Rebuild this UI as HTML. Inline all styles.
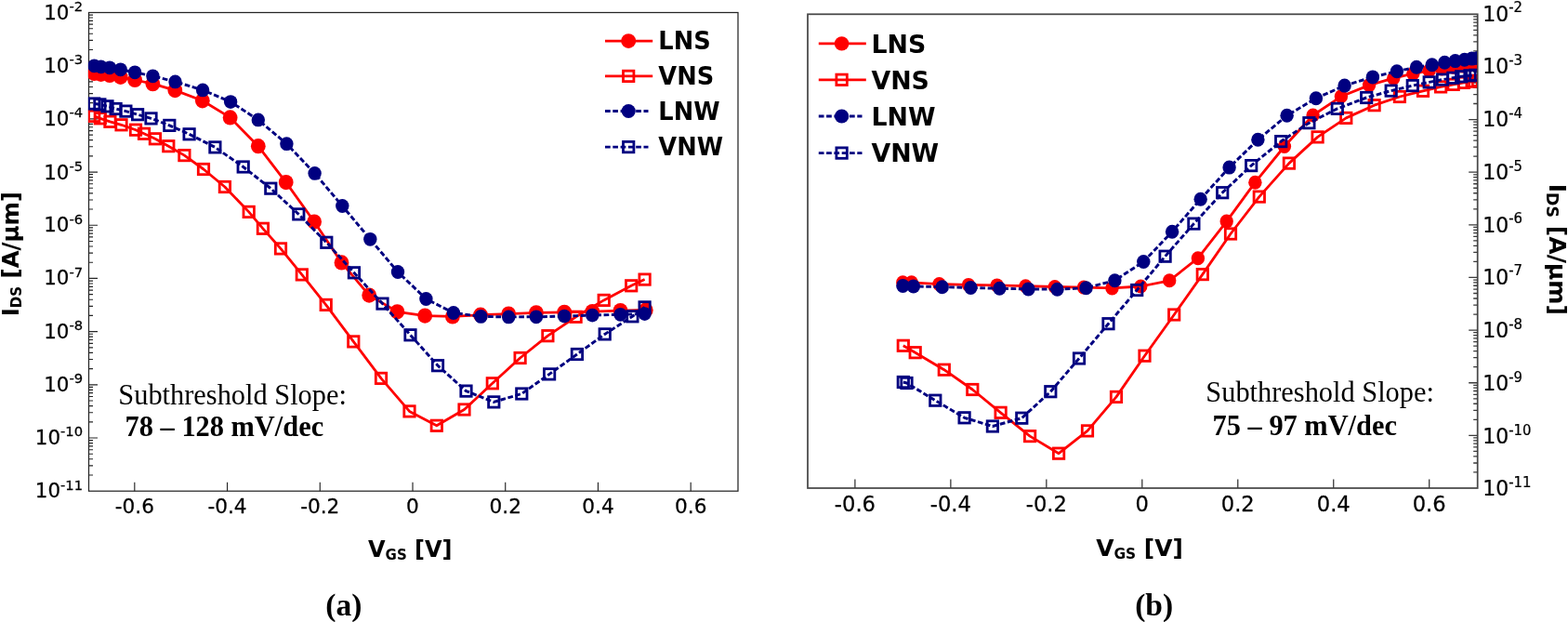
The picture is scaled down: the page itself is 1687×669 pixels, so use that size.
<!DOCTYPE html>
<html lang="en"><head><meta charset="utf-8"><title>Transfer characteristics: LNS, VNS, LNW, VNW</title>
<style>html,body{margin:0;padding:0;background:#fff}body{width:1687px;height:669px;overflow:hidden}svg{display:block}text{white-space:pre}</style>
</head><body>
<svg width="1687" height="669" viewBox="0 0 1687 669">
<rect width="1687" height="669" fill="#fff"/>
<defs>
<clipPath id="ca"><rect x="94.9" y="12.9" width="698.5" height="515.9"/></clipPath>
<clipPath id="cb"><rect x="868.4" y="14.7" width="720.7" height="510.9"/></clipPath>
</defs>
<g id="plot-a">
<rect x="95.5" y="13.5" width="698.5" height="514.7" fill="none" stroke="#262626" stroke-width="1.25"/>
<path d="M95.5 53.47h4.5M95.5 43.4h4.5M95.5 36.26h4.5M95.5 30.72h4.5M95.5 26.19h4.5M95.5 22.36h4.5M95.5 19.04h4.5M95.5 16.12h4.5M95.5 70.69h9.5M95.5 110.66h4.5M95.5 100.59h4.5M95.5 93.45h4.5M95.5 87.9h4.5M95.5 83.38h4.5M95.5 79.55h4.5M95.5 76.23h4.5M95.5 73.31h4.5M95.5 127.88h9.5M95.5 167.85h4.5M95.5 157.78h4.5M95.5 150.64h4.5M95.5 145.09h4.5M95.5 140.57h4.5M95.5 136.74h4.5M95.5 133.42h4.5M95.5 130.49h4.5M95.5 185.07h9.5M95.5 225.04h4.5M95.5 214.97h4.5M95.5 207.82h4.5M95.5 202.28h4.5M95.5 197.75h4.5M95.5 193.93h4.5M95.5 190.61h4.5M95.5 187.68h4.5M95.5 242.26h9.5M95.5 282.23h4.5M95.5 272.16h4.5M95.5 265.01h4.5M95.5 259.47h4.5M95.5 254.94h4.5M95.5 251.11h4.5M95.5 247.8h4.5M95.5 244.87h4.5M95.5 299.44h9.5M95.5 339.42h4.5M95.5 329.35h4.5M95.5 322.2h4.5M95.5 316.66h4.5M95.5 312.13h4.5M95.5 308.3h4.5M95.5 304.99h4.5M95.5 302.06h4.5M95.5 356.63h9.5M95.5 396.61h4.5M95.5 386.54h4.5M95.5 379.39h4.5M95.5 373.85h4.5M95.5 369.32h4.5M95.5 365.49h4.5M95.5 362.18h4.5M95.5 359.25h4.5M95.5 413.82h9.5M95.5 453.8h4.5M95.5 443.73h4.5M95.5 436.58h4.5M95.5 431.04h4.5M95.5 426.51h4.5M95.5 422.68h4.5M95.5 419.36h4.5M95.5 416.44h4.5M95.5 471.01h9.5M95.5 510.98h4.5M95.5 500.91h4.5M95.5 493.77h4.5M95.5 488.23h4.5M95.5 483.7h4.5M95.5 479.87h4.5M95.5 476.55h4.5M95.5 473.63h4.5M144.81 528.2v-9.5M244.54 528.2v-9.5M344.27 528.2v-9.5M444 528.2v-9.5M543.73 528.2v-9.5M643.46 528.2v-9.5M743.19 528.2v-9.5" fill="none" stroke="#262626" stroke-width="1.15"/>
<g clip-path="url(#ca)">
<polyline points="101.4,79 108.6,79.8 118,81 129.7,82.8 145.1,86 164.4,90.2 188.3,97.1 217.8,108.3 247.6,126.4 277.8,157.2 307.7,196.1 338.1,238.5 367.5,282.4 397.2,317.6 427.4,335.3 457.2,339.6 486.9,340.4 517,338.7 547.2,337.6 576.9,336.3 607.2,335.8 637.3,335.1 667.5,334.1 694.8,333.4" fill="none" stroke="#ff0000" stroke-width="2.8" stroke-linejoin="round"/>
<g fill="#ff0000">
<ellipse cx="101.4" cy="79" rx="7.9" ry="8.1"/>
<ellipse cx="108.6" cy="79.8" rx="7.9" ry="8.1"/>
<ellipse cx="118" cy="81" rx="7.9" ry="8.1"/>
<ellipse cx="129.7" cy="82.8" rx="7.9" ry="8.1"/>
<ellipse cx="145.1" cy="86" rx="7.9" ry="8.1"/>
<ellipse cx="164.4" cy="90.2" rx="7.9" ry="8.1"/>
<ellipse cx="188.3" cy="97.1" rx="7.9" ry="8.1"/>
<ellipse cx="217.8" cy="108.3" rx="7.9" ry="8.1"/>
<ellipse cx="247.6" cy="126.4" rx="7.9" ry="8.1"/>
<ellipse cx="277.8" cy="157.2" rx="7.9" ry="8.1"/>
<ellipse cx="307.7" cy="196.1" rx="7.9" ry="8.1"/>
<ellipse cx="338.1" cy="238.5" rx="7.9" ry="8.1"/>
<ellipse cx="367.5" cy="282.4" rx="7.9" ry="8.1"/>
<ellipse cx="397.2" cy="317.6" rx="7.9" ry="8.1"/>
<ellipse cx="427.4" cy="335.3" rx="7.9" ry="8.1"/>
<ellipse cx="457.2" cy="339.6" rx="7.9" ry="8.1"/>
<ellipse cx="486.9" cy="340.4" rx="7.9" ry="8.1"/>
<ellipse cx="517" cy="338.7" rx="7.9" ry="8.1"/>
<ellipse cx="547.2" cy="337.6" rx="7.9" ry="8.1"/>
<ellipse cx="576.9" cy="336.3" rx="7.9" ry="8.1"/>
<ellipse cx="607.2" cy="335.8" rx="7.9" ry="8.1"/>
<ellipse cx="637.3" cy="335.1" rx="7.9" ry="8.1"/>
<ellipse cx="667.5" cy="334.1" rx="7.9" ry="8.1"/>
<ellipse cx="694.8" cy="333.4" rx="7.9" ry="8.1"/>
</g>
<polyline points="101.2,124.9 107.8,127.3 118.4,130.8 130.5,134.3 146,139.7 155,143.8 166.9,149.3 181.3,157.2 198.4,167.1 219,182 241.9,201 267.7,227.9 282.9,245.8 302,267.4 324.8,295.4 350.7,327.9 380.3,367.4 410,406.9 440.5,442.4 469.8,457.8 499.5,440.5 529.8,412.3 559.6,385 589.4,361.2 619.6,340.8 649.7,322.9 679.2,307.3 693.6,300.6" fill="none" stroke="#ff0000" stroke-width="2.8" stroke-linejoin="round"/>
<g fill="none" stroke="#ff0000" stroke-width="2.8">
<rect x="95.5" y="119.2" width="11.4" height="11.4"/>
<rect x="102.1" y="121.6" width="11.4" height="11.4"/>
<rect x="112.7" y="125.1" width="11.4" height="11.4"/>
<rect x="124.8" y="128.6" width="11.4" height="11.4"/>
<rect x="140.3" y="134" width="11.4" height="11.4"/>
<rect x="149.3" y="138.1" width="11.4" height="11.4"/>
<rect x="161.2" y="143.6" width="11.4" height="11.4"/>
<rect x="175.6" y="151.5" width="11.4" height="11.4"/>
<rect x="192.7" y="161.4" width="11.4" height="11.4"/>
<rect x="213.3" y="176.3" width="11.4" height="11.4"/>
<rect x="236.2" y="195.3" width="11.4" height="11.4"/>
<rect x="262" y="222.2" width="11.4" height="11.4"/>
<rect x="277.2" y="240.1" width="11.4" height="11.4"/>
<rect x="296.3" y="261.7" width="11.4" height="11.4"/>
<rect x="319.1" y="289.7" width="11.4" height="11.4"/>
<rect x="345" y="322.2" width="11.4" height="11.4"/>
<rect x="374.6" y="361.7" width="11.4" height="11.4"/>
<rect x="404.3" y="401.2" width="11.4" height="11.4"/>
<rect x="434.8" y="436.7" width="11.4" height="11.4"/>
<rect x="464.1" y="452.1" width="11.4" height="11.4"/>
<rect x="493.8" y="434.8" width="11.4" height="11.4"/>
<rect x="524.1" y="406.6" width="11.4" height="11.4"/>
<rect x="553.9" y="379.3" width="11.4" height="11.4"/>
<rect x="583.7" y="355.5" width="11.4" height="11.4"/>
<rect x="613.9" y="335.1" width="11.4" height="11.4"/>
<rect x="644" y="317.2" width="11.4" height="11.4"/>
<rect x="673.5" y="301.6" width="11.4" height="11.4"/>
<rect x="687.9" y="294.9" width="11.4" height="11.4"/>
</g>
<polyline points="101.4,70.8 108.6,71.8 118,72.8 129.7,74.8 145.1,77.8 164.4,81.8 188.5,87.9 218.1,96.9 248.1,109.6 277.8,128.9 308.4,154.7 338.6,186.4 368.3,221.5 398.3,257.3 428,292.5 458.4,321.5 487.9,336.5 517.4,340.4 547.2,340.9 576.9,340.8 607.2,340.1 637.3,339.1 667.5,338.3 693.6,337.6" fill="none" stroke="#000080" stroke-width="2.9499999999999997" stroke-dasharray="5.7 2.6" stroke-linejoin="round"/>
<g fill="#000080">
<ellipse cx="101.4" cy="70.8" rx="7.2" ry="7.4"/>
<ellipse cx="108.6" cy="71.8" rx="7.2" ry="7.4"/>
<ellipse cx="118" cy="72.8" rx="7.2" ry="7.4"/>
<ellipse cx="129.7" cy="74.8" rx="7.2" ry="7.4"/>
<ellipse cx="145.1" cy="77.8" rx="7.2" ry="7.4"/>
<ellipse cx="164.4" cy="81.8" rx="7.2" ry="7.4"/>
<ellipse cx="188.5" cy="87.9" rx="7.2" ry="7.4"/>
<ellipse cx="218.1" cy="96.9" rx="7.2" ry="7.4"/>
<ellipse cx="248.1" cy="109.6" rx="7.2" ry="7.4"/>
<ellipse cx="277.8" cy="128.9" rx="7.2" ry="7.4"/>
<ellipse cx="308.4" cy="154.7" rx="7.2" ry="7.4"/>
<ellipse cx="338.6" cy="186.4" rx="7.2" ry="7.4"/>
<ellipse cx="368.3" cy="221.5" rx="7.2" ry="7.4"/>
<ellipse cx="398.3" cy="257.3" rx="7.2" ry="7.4"/>
<ellipse cx="428" cy="292.5" rx="7.2" ry="7.4"/>
<ellipse cx="458.4" cy="321.5" rx="7.2" ry="7.4"/>
<ellipse cx="487.9" cy="336.5" rx="7.2" ry="7.4"/>
<ellipse cx="517.4" cy="340.4" rx="7.2" ry="7.4"/>
<ellipse cx="547.2" cy="340.9" rx="7.2" ry="7.4"/>
<ellipse cx="576.9" cy="340.8" rx="7.2" ry="7.4"/>
<ellipse cx="607.2" cy="340.1" rx="7.2" ry="7.4"/>
<ellipse cx="637.3" cy="339.1" rx="7.2" ry="7.4"/>
<ellipse cx="667.5" cy="338.3" rx="7.2" ry="7.4"/>
<ellipse cx="693.6" cy="337.6" rx="7.2" ry="7.4"/>
</g>
<polyline points="101.2,111.5 107.4,112.4 115.5,114.3 124.6,117 135.4,119.6 148.1,123.2 162.5,127.4 182.3,134.9 203.6,144.3 231.4,158.4 261.7,179.5 291.3,202.7 321.3,230.4 351.3,260.8 380.9,293.3 411.5,326.6 441.5,360.3 471,393.2 501.5,420.6 531.3,432.4 561.3,423.5 591.1,402.4 620.9,381 650.7,359.4 680.4,340.3 693.6,330.4" fill="none" stroke="#000080" stroke-width="2.9499999999999997" stroke-dasharray="5.7 2.6" stroke-linejoin="round"/>
<g fill="none" stroke="#000080" stroke-width="2.8">
<rect x="95.5" y="105.8" width="11.4" height="11.4"/>
<rect x="101.7" y="106.7" width="11.4" height="11.4"/>
<rect x="109.8" y="108.6" width="11.4" height="11.4"/>
<rect x="118.9" y="111.3" width="11.4" height="11.4"/>
<rect x="129.7" y="113.9" width="11.4" height="11.4"/>
<rect x="142.4" y="117.5" width="11.4" height="11.4"/>
<rect x="156.8" y="121.7" width="11.4" height="11.4"/>
<rect x="176.6" y="129.2" width="11.4" height="11.4"/>
<rect x="197.9" y="138.6" width="11.4" height="11.4"/>
<rect x="225.7" y="152.7" width="11.4" height="11.4"/>
<rect x="256" y="173.8" width="11.4" height="11.4"/>
<rect x="285.6" y="197" width="11.4" height="11.4"/>
<rect x="315.6" y="224.7" width="11.4" height="11.4"/>
<rect x="345.6" y="255.1" width="11.4" height="11.4"/>
<rect x="375.2" y="287.6" width="11.4" height="11.4"/>
<rect x="405.8" y="320.9" width="11.4" height="11.4"/>
<rect x="435.8" y="354.6" width="11.4" height="11.4"/>
<rect x="465.3" y="387.5" width="11.4" height="11.4"/>
<rect x="495.8" y="414.9" width="11.4" height="11.4"/>
<rect x="525.6" y="426.7" width="11.4" height="11.4"/>
<rect x="555.6" y="417.8" width="11.4" height="11.4"/>
<rect x="585.4" y="396.7" width="11.4" height="11.4"/>
<rect x="615.2" y="375.3" width="11.4" height="11.4"/>
<rect x="645" y="353.7" width="11.4" height="11.4"/>
<rect x="674.7" y="334.6" width="11.4" height="11.4"/>
<rect x="687.9" y="324.7" width="11.4" height="11.4"/>
</g>
</g>
<g font-family="'DejaVu Sans', 'Liberation Sans', sans-serif" font-size="21.2" fill="#000" stroke="#000" stroke-width="0.25" stroke-linejoin="round">
<text transform="translate(89.1 20.5) scale(1.01 1)" text-anchor="end">10<tspan font-size="14.6" dy="-8.7" textLength="14.56" lengthAdjust="spacingAndGlyphs">-2</tspan></text>
<text transform="translate(89.1 77.69) scale(1.01 1)" text-anchor="end">10<tspan font-size="14.6" dy="-8.7" textLength="14.56" lengthAdjust="spacingAndGlyphs">-3</tspan></text>
<text transform="translate(89.1 134.88) scale(1.01 1)" text-anchor="end">10<tspan font-size="14.6" dy="-8.7" textLength="14.56" lengthAdjust="spacingAndGlyphs">-4</tspan></text>
<text transform="translate(89.1 192.77) scale(1.01 1)" text-anchor="end">10<tspan font-size="14.6" dy="-8.7" textLength="14.56" lengthAdjust="spacingAndGlyphs">-5</tspan></text>
<text transform="translate(89.1 249.26) scale(1.01 1)" text-anchor="end">10<tspan font-size="14.6" dy="-8.7" textLength="14.56" lengthAdjust="spacingAndGlyphs">-6</tspan></text>
<text transform="translate(89.1 306.44) scale(1.01 1)" text-anchor="end">10<tspan font-size="14.6" dy="-8.7" textLength="14.56" lengthAdjust="spacingAndGlyphs">-7</tspan></text>
<text transform="translate(89.1 363.63) scale(1.01 1)" text-anchor="end">10<tspan font-size="14.6" dy="-8.7" textLength="14.56" lengthAdjust="spacingAndGlyphs">-8</tspan></text>
<text transform="translate(89.1 420.82) scale(1.01 1)" text-anchor="end">10<tspan font-size="14.6" dy="-8.7" textLength="14.56" lengthAdjust="spacingAndGlyphs">-9</tspan></text>
<text transform="translate(89.1 478.01) scale(1.01 1)" text-anchor="end">10<tspan font-size="14.6" dy="-8.7" textLength="23.84" lengthAdjust="spacingAndGlyphs">-10</tspan></text>
<text transform="translate(89.1 535.2) scale(1.01 1)" text-anchor="end">10<tspan font-size="14.6" dy="-8.7" textLength="23.84" lengthAdjust="spacingAndGlyphs">-11</tspan></text>
<text transform="translate(144.81 552) scale(1.02 1)" text-anchor="middle">-0.6</text>
<text transform="translate(244.54 552) scale(1.02 1)" text-anchor="middle">-0.4</text>
<text transform="translate(344.27 552) scale(1.02 1)" text-anchor="middle">-0.2</text>
<text transform="translate(444 552) scale(1.02 1)" text-anchor="middle">0</text>
<text transform="translate(543.73 552) scale(1.02 1)" text-anchor="middle">0.2</text>
<text transform="translate(643.46 552) scale(1.02 1)" text-anchor="middle">0.4</text>
<text transform="translate(743.19 552) scale(1.02 1)" text-anchor="middle">0.6</text>
</g>
<line x1="651" y1="44.1" x2="702.2" y2="44.1" stroke="#ff0000" stroke-width="2.8"/>
<ellipse cx="676.2" cy="44.1" rx="8.0" ry="7.8" fill="#ff0000"/>
<text x="708.3" y="53.48" font-family="'DejaVu Sans', 'Liberation Sans', sans-serif" font-weight="bold" font-size="25.7" fill="#000">LNS</text>
<line x1="651" y1="81.9" x2="702.2" y2="81.9" stroke="#ff0000" stroke-width="2.8"/>
<rect x="670.5" y="76.2" width="11.4" height="11.4" fill="none" stroke="#ff0000" stroke-width="2.8"/>
<text x="708.3" y="91.28" font-family="'DejaVu Sans', 'Liberation Sans', sans-serif" font-weight="bold" font-size="25.7" fill="#000">VNS</text>
<line x1="651" y1="119.5" x2="697.5" y2="119.5" stroke="#000080" stroke-width="2.8" stroke-dasharray="5.7 2.6"/>
<ellipse cx="676.2" cy="119.5" rx="7.6" ry="7.4" fill="#000080"/>
<text x="708.3" y="128.88" font-family="'DejaVu Sans', 'Liberation Sans', sans-serif" font-weight="bold" font-size="25.7" fill="#000">LNW</text>
<line x1="651" y1="158.1" x2="697.5" y2="158.1" stroke="#000080" stroke-width="2.8" stroke-dasharray="5.7 2.6"/>
<rect x="670.5" y="152.4" width="11.4" height="11.4" fill="none" stroke="#000080" stroke-width="2.8"/>
<text x="708.3" y="167.48" font-family="'DejaVu Sans', 'Liberation Sans', sans-serif" font-weight="bold" font-size="25.7" fill="#000">VNW</text>
<g font-family="'DejaVu Sans', 'Liberation Sans', sans-serif" font-weight="bold" font-size="24" fill="#000">
<text x="396" y="599">V<tspan font-size="15" dy="3.2">GS</tspan><tspan dy="-3.2"> [V]</tspan></text>
<text transform="translate(20.0 340.3) rotate(-90)" font-size="24.4">I<tspan font-size="15" dy="3.2">DS</tspan><tspan dy="-3.2"> [A/µm]</tspan></text>
</g>
<g font-family="'Liberation Serif', 'Times New Roman', serif" fill="#000">
<text transform="translate(127.3 435.1) scale(1 1.06)" font-size="30.4">Subthreshold Slope:</text>
<text transform="translate(134.6 469.3) scale(1 1.06)" font-size="30.4" font-weight="bold">78 – 128 mV/dec</text>
<text x="350.3" y="662.0" font-size="33.6" font-weight="bold">(a)</text>
</g>
</g>
<g id="plot-b">
<rect x="869" y="15.3" width="720.7" height="509.7" fill="none" stroke="#484848" stroke-width="1.75"/>
<path d="M1589.7 54.89h-4.5M1589.7 44.91h-4.5M1589.7 37.84h-4.5M1589.7 32.35h-4.5M1589.7 27.86h-4.5M1589.7 24.07h-4.5M1589.7 20.79h-4.5M1589.7 17.89h-4.5M1589.7 71.93h-9.5M1589.7 111.52h-4.5M1589.7 101.55h-4.5M1589.7 94.47h-4.5M1589.7 88.98h-4.5M1589.7 84.5h-4.5M1589.7 80.71h-4.5M1589.7 77.42h-4.5M1589.7 74.52h-4.5M1589.7 128.57h-9.5M1589.7 168.15h-4.5M1589.7 158.18h-4.5M1589.7 151.1h-4.5M1589.7 145.61h-4.5M1589.7 141.13h-4.5M1589.7 137.34h-4.5M1589.7 134.06h-4.5M1589.7 131.16h-4.5M1589.7 185.2h-9.5M1589.7 224.79h-4.5M1589.7 214.81h-4.5M1589.7 207.74h-4.5M1589.7 202.25h-4.5M1589.7 197.76h-4.5M1589.7 193.97h-4.5M1589.7 190.69h-4.5M1589.7 187.79h-4.5M1589.7 241.83h-9.5M1589.7 281.42h-4.5M1589.7 271.45h-4.5M1589.7 264.37h-4.5M1589.7 258.88h-4.5M1589.7 254.4h-4.5M1589.7 250.61h-4.5M1589.7 247.32h-4.5M1589.7 244.42h-4.5M1589.7 298.47h-9.5M1589.7 338.05h-4.5M1589.7 328.08h-4.5M1589.7 321h-4.5M1589.7 315.51h-4.5M1589.7 311.03h-4.5M1589.7 307.24h-4.5M1589.7 303.96h-4.5M1589.7 301.06h-4.5M1589.7 355.1h-9.5M1589.7 394.69h-4.5M1589.7 384.71h-4.5M1589.7 377.64h-4.5M1589.7 372.15h-4.5M1589.7 367.66h-4.5M1589.7 363.87h-4.5M1589.7 360.59h-4.5M1589.7 357.69h-4.5M1589.7 411.73h-9.5M1589.7 451.32h-4.5M1589.7 441.35h-4.5M1589.7 434.27h-4.5M1589.7 428.78h-4.5M1589.7 424.3h-4.5M1589.7 420.51h-4.5M1589.7 417.22h-4.5M1589.7 414.32h-4.5M1589.7 468.37h-9.5M1589.7 507.95h-4.5M1589.7 497.98h-4.5M1589.7 490.9h-4.5M1589.7 485.41h-4.5M1589.7 480.93h-4.5M1589.7 477.14h-4.5M1589.7 473.86h-4.5M1589.7 470.96h-4.5M919.89 525v-9.5M1022.86 525v-9.5M1125.83 525v-9.5M1228.8 525v-9.5M1331.77 525v-9.5M1434.74 525v-9.5M1537.71 525v-9.5" fill="none" stroke="#3a3a3a" stroke-width="1.3"/>
<g clip-path="url(#cb)">
<polyline points="971.3,303.7 980.7,303.8 1010.5,305.6 1042,306.4 1072.7,306.9 1103.4,307.7 1134.8,308.5 1166,309.1 1196.5,309.9 1227.3,308 1258.2,301.8 1288.9,277.7 1319.7,238.1 1350.4,196.2 1381.9,157.5 1412.6,124 1442.9,103.8 1473.1,91.6 1499.2,84.2 1520.3,79.2 1537.7,76 1551.3,74 1563.7,72.3 1573.6,71.1 1582.3,70 1590,69.2" fill="none" stroke="#ff0000" stroke-width="2.8" stroke-linejoin="round"/>
<g fill="#ff0000">
<ellipse cx="971.3" cy="303.7" rx="7.2" ry="7.5"/>
<ellipse cx="980.7" cy="303.8" rx="7.2" ry="7.5"/>
<ellipse cx="1010.5" cy="305.6" rx="7.2" ry="7.5"/>
<ellipse cx="1042" cy="306.4" rx="7.2" ry="7.5"/>
<ellipse cx="1072.7" cy="306.9" rx="7.2" ry="7.5"/>
<ellipse cx="1103.4" cy="307.7" rx="7.2" ry="7.5"/>
<ellipse cx="1134.8" cy="308.5" rx="7.2" ry="7.5"/>
<ellipse cx="1166" cy="309.1" rx="7.2" ry="7.5"/>
<ellipse cx="1196.5" cy="309.9" rx="7.2" ry="7.5"/>
<ellipse cx="1227.3" cy="308" rx="7.2" ry="7.5"/>
<ellipse cx="1258.2" cy="301.8" rx="7.2" ry="7.5"/>
<ellipse cx="1288.9" cy="277.7" rx="7.2" ry="7.5"/>
<ellipse cx="1319.7" cy="238.1" rx="7.2" ry="7.5"/>
<ellipse cx="1350.4" cy="196.2" rx="7.2" ry="7.5"/>
<ellipse cx="1381.9" cy="157.5" rx="7.2" ry="7.5"/>
<ellipse cx="1412.6" cy="124" rx="7.2" ry="7.5"/>
<ellipse cx="1442.9" cy="103.8" rx="7.2" ry="7.5"/>
<ellipse cx="1473.1" cy="91.6" rx="7.2" ry="7.5"/>
<ellipse cx="1499.2" cy="84.2" rx="7.2" ry="7.5"/>
<ellipse cx="1520.3" cy="79.2" rx="7.2" ry="7.5"/>
<ellipse cx="1537.7" cy="76" rx="7.2" ry="7.5"/>
<ellipse cx="1551.3" cy="74" rx="7.2" ry="7.5"/>
<ellipse cx="1563.7" cy="72.3" rx="7.2" ry="7.5"/>
<ellipse cx="1573.6" cy="71.1" rx="7.2" ry="7.5"/>
<ellipse cx="1582.3" cy="70" rx="7.2" ry="7.5"/>
<ellipse cx="1590" cy="69.2" rx="7.2" ry="7.5"/>
</g>
<polyline points="971.8,371.8 984.7,379.2 1015.8,397.7 1046.3,419 1076.6,443.8 1108.1,469.1 1139.1,487.7 1170,463.4 1201,426.9 1231.5,382.7 1263.2,338.5 1293.8,295.1 1324,251.5 1354.8,211.6 1386.9,175.6 1417.6,147.4 1448.3,126.9 1478.6,113.2 1505.9,104 1531,97.8 1550.1,93.4 1563.7,90.9 1574.9,88.9 1583.6,87.7 1590,86.8" fill="none" stroke="#ff0000" stroke-width="2.8" stroke-linejoin="round"/>
<g fill="none" stroke="#ff0000" stroke-width="2.8">
<rect x="966.1" y="366.1" width="11.4" height="11.4"/>
<rect x="979" y="373.5" width="11.4" height="11.4"/>
<rect x="1010.1" y="392" width="11.4" height="11.4"/>
<rect x="1040.6" y="413.3" width="11.4" height="11.4"/>
<rect x="1070.9" y="438.1" width="11.4" height="11.4"/>
<rect x="1102.4" y="463.4" width="11.4" height="11.4"/>
<rect x="1133.4" y="482" width="11.4" height="11.4"/>
<rect x="1164.3" y="457.7" width="11.4" height="11.4"/>
<rect x="1195.3" y="421.2" width="11.4" height="11.4"/>
<rect x="1225.8" y="377" width="11.4" height="11.4"/>
<rect x="1257.5" y="332.8" width="11.4" height="11.4"/>
<rect x="1288.1" y="289.4" width="11.4" height="11.4"/>
<rect x="1318.3" y="245.8" width="11.4" height="11.4"/>
<rect x="1349.1" y="205.9" width="11.4" height="11.4"/>
<rect x="1381.2" y="169.9" width="11.4" height="11.4"/>
<rect x="1411.9" y="141.7" width="11.4" height="11.4"/>
<rect x="1442.6" y="121.2" width="11.4" height="11.4"/>
<rect x="1472.9" y="107.5" width="11.4" height="11.4"/>
<rect x="1500.2" y="98.3" width="11.4" height="11.4"/>
<rect x="1525.3" y="92.1" width="11.4" height="11.4"/>
<rect x="1544.4" y="87.7" width="11.4" height="11.4"/>
<rect x="1558" y="85.2" width="11.4" height="11.4"/>
<rect x="1569.2" y="83.2" width="11.4" height="11.4"/>
<rect x="1577.9" y="82" width="11.4" height="11.4"/>
<rect x="1584.3" y="81.1" width="11.4" height="11.4"/>
</g>
<polyline points="971.4,307.4 982.8,307.9 1013.7,308.7 1044.4,309.4 1075.4,310.3 1106.4,310.9 1137.5,311.2 1168.5,309.7 1199.4,301.7 1230.3,281.5 1261.1,249.2 1291.7,214.2 1322.6,180.1 1353.4,150.3 1384.6,124.3 1415.9,105.7 1446.6,92.1 1476.9,82.9 1502.9,76.7 1524,72.3 1540.7,69.8 1554.3,67.3 1565.7,65.6 1575.7,64.3 1583.6,63.1 1590,62.6" fill="none" stroke="#000080" stroke-width="2.9499999999999997" stroke-dasharray="5.7 2.6" stroke-linejoin="round"/>
<g fill="#000080">
<ellipse cx="971.4" cy="307.4" rx="7.2" ry="7.5"/>
<ellipse cx="982.8" cy="307.9" rx="7.2" ry="7.5"/>
<ellipse cx="1013.7" cy="308.7" rx="7.2" ry="7.5"/>
<ellipse cx="1044.4" cy="309.4" rx="7.2" ry="7.5"/>
<ellipse cx="1075.4" cy="310.3" rx="7.2" ry="7.5"/>
<ellipse cx="1106.4" cy="310.9" rx="7.2" ry="7.5"/>
<ellipse cx="1137.5" cy="311.2" rx="7.2" ry="7.5"/>
<ellipse cx="1168.5" cy="309.7" rx="7.2" ry="7.5"/>
<ellipse cx="1199.4" cy="301.7" rx="7.2" ry="7.5"/>
<ellipse cx="1230.3" cy="281.5" rx="7.2" ry="7.5"/>
<ellipse cx="1261.1" cy="249.2" rx="7.2" ry="7.5"/>
<ellipse cx="1291.7" cy="214.2" rx="7.2" ry="7.5"/>
<ellipse cx="1322.6" cy="180.1" rx="7.2" ry="7.5"/>
<ellipse cx="1353.4" cy="150.3" rx="7.2" ry="7.5"/>
<ellipse cx="1384.6" cy="124.3" rx="7.2" ry="7.5"/>
<ellipse cx="1415.9" cy="105.7" rx="7.2" ry="7.5"/>
<ellipse cx="1446.6" cy="92.1" rx="7.2" ry="7.5"/>
<ellipse cx="1476.9" cy="82.9" rx="7.2" ry="7.5"/>
<ellipse cx="1502.9" cy="76.7" rx="7.2" ry="7.5"/>
<ellipse cx="1524" cy="72.3" rx="7.2" ry="7.5"/>
<ellipse cx="1540.7" cy="69.8" rx="7.2" ry="7.5"/>
<ellipse cx="1554.3" cy="67.3" rx="7.2" ry="7.5"/>
<ellipse cx="1565.7" cy="65.6" rx="7.2" ry="7.5"/>
<ellipse cx="1575.7" cy="64.3" rx="7.2" ry="7.5"/>
<ellipse cx="1583.6" cy="63.1" rx="7.2" ry="7.5"/>
<ellipse cx="1590" cy="62.6" rx="7.2" ry="7.5"/>
</g>
<polyline points="971.8,411 975.5,412 1006.3,430.7 1037.6,449.3 1067.9,458.5 1099.3,449.7 1130.3,421.2 1161,385.5 1192.5,348.2 1223.2,312 1253.6,275.7 1284.4,240.6 1315.2,207.2 1346.2,178.1 1378.2,152.1 1408.4,132.2 1438.8,116.9 1470.2,105 1496.7,97.6 1519.8,92.1 1537.7,88.4 1552,85.6 1563.4,83.8 1572.2,82.3 1581.5,81.3 1587.4,80.8" fill="none" stroke="#000080" stroke-width="2.9499999999999997" stroke-dasharray="5.7 2.6" stroke-linejoin="round"/>
<g fill="none" stroke="#000080" stroke-width="2.8">
<rect x="966.1" y="405.3" width="11.4" height="11.4"/>
<rect x="969.8" y="406.3" width="11.4" height="11.4"/>
<rect x="1000.6" y="425" width="11.4" height="11.4"/>
<rect x="1031.9" y="443.6" width="11.4" height="11.4"/>
<rect x="1062.2" y="452.8" width="11.4" height="11.4"/>
<rect x="1093.6" y="444" width="11.4" height="11.4"/>
<rect x="1124.6" y="415.5" width="11.4" height="11.4"/>
<rect x="1155.3" y="379.8" width="11.4" height="11.4"/>
<rect x="1186.8" y="342.5" width="11.4" height="11.4"/>
<rect x="1217.5" y="306.3" width="11.4" height="11.4"/>
<rect x="1247.9" y="270" width="11.4" height="11.4"/>
<rect x="1278.7" y="234.9" width="11.4" height="11.4"/>
<rect x="1309.5" y="201.5" width="11.4" height="11.4"/>
<rect x="1340.5" y="172.4" width="11.4" height="11.4"/>
<rect x="1372.5" y="146.4" width="11.4" height="11.4"/>
<rect x="1402.7" y="126.5" width="11.4" height="11.4"/>
<rect x="1433.1" y="111.2" width="11.4" height="11.4"/>
<rect x="1464.5" y="99.3" width="11.4" height="11.4"/>
<rect x="1491" y="91.9" width="11.4" height="11.4"/>
<rect x="1514.1" y="86.4" width="11.4" height="11.4"/>
<rect x="1532" y="82.7" width="11.4" height="11.4"/>
<rect x="1546.3" y="79.9" width="11.4" height="11.4"/>
<rect x="1557.7" y="78.1" width="11.4" height="11.4"/>
<rect x="1566.5" y="76.6" width="11.4" height="11.4"/>
<rect x="1575.8" y="75.6" width="11.4" height="11.4"/>
<rect x="1581.7" y="75.1" width="11.4" height="11.4"/>
</g>
</g>
<g font-family="'DejaVu Sans', 'Liberation Sans', sans-serif" font-size="22.2" fill="#000" stroke="#000" stroke-width="0.25" stroke-linejoin="round">
<text transform="translate(1595.2 22.55) scale(0.99 1)">10<tspan font-size="15.4" dy="-9.3" textLength="14.97" lengthAdjust="spacingAndGlyphs">-2</tspan></text>
<text transform="translate(1595.2 79.34) scale(0.99 1)">10<tspan font-size="15.4" dy="-9.3" textLength="14.97" lengthAdjust="spacingAndGlyphs">-3</tspan></text>
<text transform="translate(1595.2 136.14) scale(0.99 1)">10<tspan font-size="15.4" dy="-9.3" textLength="14.97" lengthAdjust="spacingAndGlyphs">-4</tspan></text>
<text transform="translate(1595.2 192.93) scale(0.99 1)">10<tspan font-size="15.4" dy="-9.3" textLength="14.97" lengthAdjust="spacingAndGlyphs">-5</tspan></text>
<text transform="translate(1595.2 249.72) scale(0.99 1)">10<tspan font-size="15.4" dy="-9.3" textLength="14.97" lengthAdjust="spacingAndGlyphs">-6</tspan></text>
<text transform="translate(1595.2 305.52) scale(0.99 1)">10<tspan font-size="15.4" dy="-9.3" textLength="14.97" lengthAdjust="spacingAndGlyphs">-7</tspan></text>
<text transform="translate(1595.2 363.31) scale(0.99 1)">10<tspan font-size="15.4" dy="-9.3" textLength="14.97" lengthAdjust="spacingAndGlyphs">-8</tspan></text>
<text transform="translate(1595.2 420.1) scale(0.99 1)">10<tspan font-size="15.4" dy="-9.3" textLength="14.97" lengthAdjust="spacingAndGlyphs">-9</tspan></text>
<text transform="translate(1595.2 476.9) scale(0.99 1)">10<tspan font-size="15.4" dy="-9.3" textLength="24.52" lengthAdjust="spacingAndGlyphs">-10</tspan></text>
<text transform="translate(1595.2 532.89) scale(0.99 1)">10<tspan font-size="15.4" dy="-9.3" textLength="24.52" lengthAdjust="spacingAndGlyphs">-11</tspan></text>
<text transform="translate(919.89 549.7) scale(1.02 1)" text-anchor="middle">-0.6</text>
<text transform="translate(1022.86 549.7) scale(1.02 1)" text-anchor="middle">-0.4</text>
<text transform="translate(1125.83 549.7) scale(1.02 1)" text-anchor="middle">-0.2</text>
<text transform="translate(1228.8 549.7) scale(1.02 1)" text-anchor="middle">0</text>
<text transform="translate(1331.77 549.7) scale(1.02 1)" text-anchor="middle">0.2</text>
<text transform="translate(1434.74 549.7) scale(1.02 1)" text-anchor="middle">0.4</text>
<text transform="translate(1537.71 549.7) scale(1.02 1)" text-anchor="middle">0.6</text>
</g>
<line x1="880.8" y1="46.8" x2="931.8" y2="46.8" stroke="#ff0000" stroke-width="2.8"/>
<ellipse cx="905.6" cy="46.8" rx="7.8" ry="7.6" fill="#ff0000"/>
<text x="937.4" y="56.58" font-family="'DejaVu Sans', 'Liberation Sans', sans-serif" font-weight="bold" font-size="26.8" fill="#000">LNS</text>
<line x1="880.8" y1="85.8" x2="931.8" y2="85.8" stroke="#ff0000" stroke-width="2.8"/>
<rect x="899.9" y="80.1" width="11.4" height="11.4" fill="none" stroke="#ff0000" stroke-width="2.8"/>
<text x="937.4" y="95.58" font-family="'DejaVu Sans', 'Liberation Sans', sans-serif" font-weight="bold" font-size="26.8" fill="#000">VNS</text>
<line x1="880.8" y1="125" x2="927.5" y2="125" stroke="#000080" stroke-width="2.8" stroke-dasharray="5.7 2.6"/>
<ellipse cx="905.6" cy="125" rx="7.7" ry="7.6" fill="#000080"/>
<text x="937.4" y="134.78" font-family="'DejaVu Sans', 'Liberation Sans', sans-serif" font-weight="bold" font-size="26.8" fill="#000">LNW</text>
<line x1="880.8" y1="164.6" x2="927.5" y2="164.6" stroke="#000080" stroke-width="2.8" stroke-dasharray="5.7 2.6"/>
<rect x="899.9" y="158.9" width="11.4" height="11.4" fill="none" stroke="#000080" stroke-width="2.8"/>
<text x="937.4" y="174.38" font-family="'DejaVu Sans', 'Liberation Sans', sans-serif" font-weight="bold" font-size="26.8" fill="#000">VNW</text>
<g font-family="'DejaVu Sans', 'Liberation Sans', sans-serif" font-weight="bold" font-size="24.6" fill="#000">
<text x="1179.2" y="597.8" font-size="24.9">V<tspan font-size="15.4" dy="3.2">GS</tspan><tspan dy="-3.2"> [V]</tspan></text>
<text transform="translate(1667.3 197.7) rotate(90)" font-size="25.1">I<tspan font-size="17.4" dy="3.2">DS</tspan><tspan dy="-3.2"> [A/µm]</tspan></text>
</g>
<g font-family="'Liberation Serif', 'Times New Roman', serif" fill="#000">
<text transform="translate(1297.3 431.7) scale(1 1.06)" font-size="30.4">Subthreshold Slope:</text>
<text transform="translate(1304.6 467.6) scale(1 1.06)" font-size="30.4" font-weight="bold">75 – 97 mV/dec</text>
<text x="1221.2" y="662.2" font-size="33.6" font-weight="bold">(b)</text>
</g>
</g>
</svg>
</body></html>
